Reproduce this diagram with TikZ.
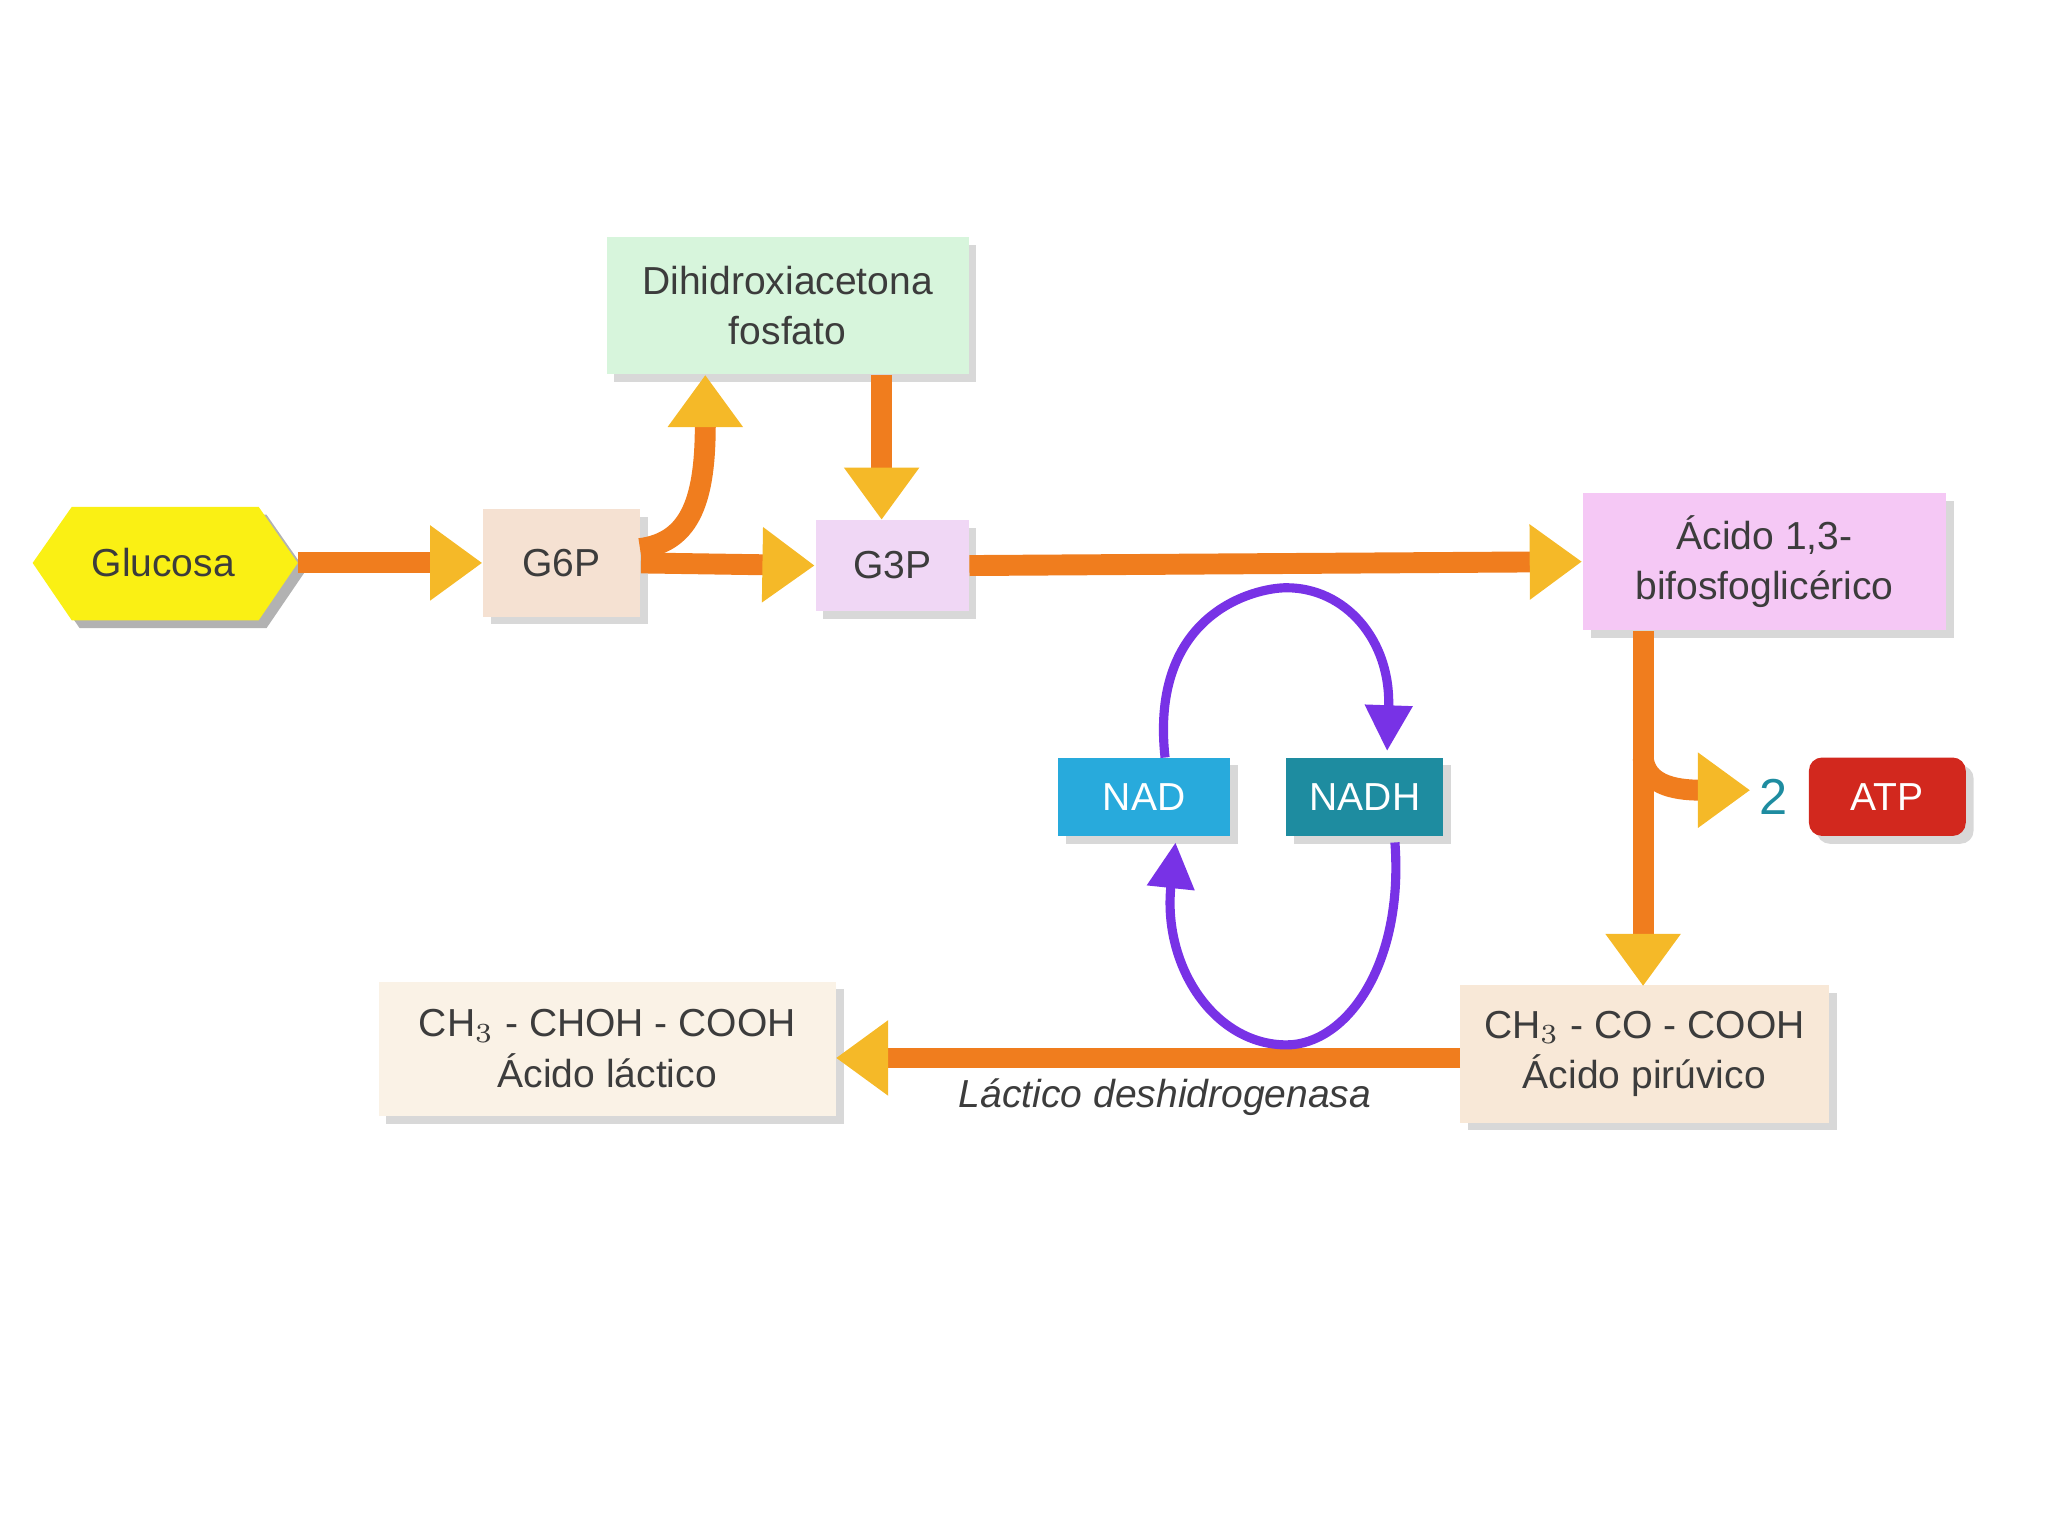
\documentclass[tikz,border=0pt]{standalone}
\usepackage{fontspec}
\setmainfont{Liberation Sans}
\usetikzlibrary{shapes.geometric,arrows.meta,shadows}
\definecolor{cglu}{RGB}{250,240,20}
\definecolor{cg6p}{RGB}{245,225,210}
\definecolor{cdha}{RGB}{215,245,220}
\definecolor{cg3p}{RGB}{240,215,245}
\definecolor{cbpg}{RGB}{245,200,245}
\definecolor{cnad}{RGB}{40,170,220}
\definecolor{cnadh}{RGB}{30,140,160}
\definecolor{catp}{RGB}{210,40,30}
\definecolor{cpir}{RGB}{248,232,215}
\definecolor{clac}{RGB}{250,242,230}
\definecolor{corange}{RGB}{240,125,30}
\definecolor{cgold}{RGB}{245,185,40}
\definecolor{cpurple}{RGB}{120,50,230}
\definecolor{ctext}{RGB}{60,60,60}
\begin{document}
\begin{tikzpicture}[x=0.01cm,y=-0.01cm,
 every node/.style={font=\fontsize{8.5}{11}\selectfont,text=ctext},
 box/.style={draw=none,minimum height=0.7cm,align=center,drop shadow={shadow xshift=0.06cm,shadow yshift=-0.06cm,fill=gray!60}},
 flow/.style={line width=0.16cm,draw=corange,-{Triangle[length=0.4cm,width=0.55cm,color=cgold]}},
 cyc/.style={line width=0.07cm,draw=cpurple}]
\useasboundingbox (0,0) rectangle (1568,1176);
\fill[gray!60] (31,437)--(61,394)--(204,394)--(234,437)--(204,481)--(61,481)--cycle;
\fill[cglu] (25,431)--(55,388)--(198,388)--(228,431)--(198,475)--(55,475)--cycle;
\node (glu) at (125,431) {Glucosa};
\node[box,fill=cg6p,minimum width=1.2cm,minimum height=0.82cm] (g6p) at (430,431) {G6P};
\node[box,fill=cdha,minimum width=2.77cm,minimum height=1.05cm] (dha) at (603,234) {Dihidroxiacetona\\fosfato};
\node[box,fill=cg3p,minimum width=1.17cm,minimum height=0.7cm] (g3p) at (683,433) {G3P};
\node[box,fill=cbpg,minimum width=2.78cm,minimum height=1.05cm] (bpg) at (1351,430) {Ácido 1,3-\\bifosfoglicérico};
\node[box,fill=cnad,minimum width=1.32cm,minimum height=0.6cm,text=white] (nad) at (876,610) {NAD};
\node[box,fill=cnadh,minimum width=1.2cm,minimum height=0.6cm,text=white] (nadh) at (1045,610) {NADH};
\node[text=cnadh] (two) at (1358,610) {\fontsize{11}{13}\selectfont 2};
\node[box,fill=catp,rounded corners=0.1cm,minimum width=1.2cm,minimum height=0.6cm,text=white] (atp) at (1445,610) {ATP};
\node[box,fill=cpir,minimum width=2.82cm,minimum height=1.05cm] (pir) at (1259,807) {CH$_3$ - CO - COOH\\Ácido pirúvico};
\node[box,fill=clac,minimum width=3.5cm,minimum height=1.03cm] (lac) at (465,803) {CH$_3$ - CHOH - COOH\\Ácido láctico};
\node[font=\fontsize{8.5}{11}\selectfont\itshape] (ldh) at (892,840) {Láctico deshidrogenasa};
% flows
\draw[flow] (228,431) -- (g6p.west);
\draw[flow] (g6p.east) -- (g3p.west);
\draw[flow] (490,420) .. controls (530,415) and (540,380) .. (540,287);
\draw[flow] (675,287) -- (675,398);
\draw[flow] (g3p.east) -- (bpg.west);
\draw[flow] (1258,483) -- (1258,755);
\draw[flow] (1258,580) .. controls (1260,600) and (1280,605) .. (1340,605);
\draw[flow] (1118,810) -- (640,810);
% cycle
\draw[cyc,-{Triangle[length=0.35cm,width=0.35cm]}] (892,580) .. controls (880,470) and (960,450) .. (985,450) .. controls (1030,450) and (1065,490) .. (1062,575);
\draw[cyc,-{Triangle[length=0.35cm,width=0.35cm]}] (1068,645) .. controls (1075,740) and (1030,800) .. (985,800) .. controls (930,800) and (890,740) .. (900,645);
\end{tikzpicture}
\end{document}
